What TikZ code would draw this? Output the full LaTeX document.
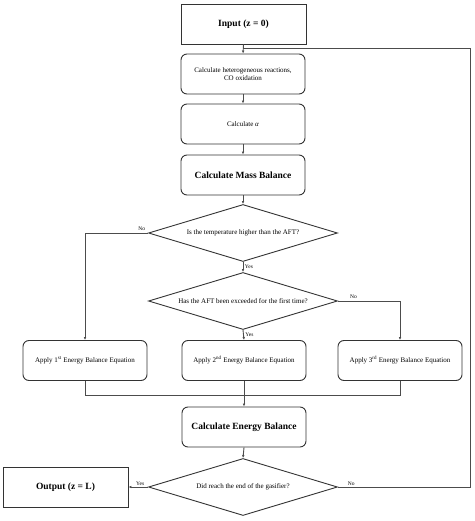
\documentclass[tikz,border=0pt]{standalone}
\usepackage{fontspec}
\setmainfont{Liberation Serif}
\usetikzlibrary{shapes.geometric,arrows.meta}
\begin{document}
\begin{tikzpicture}[x=1pt,y=-1pt,
  line/.style={draw=black!70, line width=0.9pt},
  arr/.style={line, -{Latex[length=3pt,width=2.6pt]}},
  sqbox/.style={draw=black!80, line width=0.9pt, minimum width=125pt, minimum height=40pt, inner sep=0pt, font=\fontsize{9.5}{11}\selectfont\bfseries},
  rbox/.style={draw=black!80, line width=0.9pt, rounded corners=6pt, minimum width=124pt, minimum height=40pt, inner sep=0pt, align=center, font=\fontsize{7}{8.5}\selectfont},
  bigbox/.style={rbox, font=\fontsize{9.5}{11}\selectfont\bfseries},
  dia/.style={draw=black!80, line width=0.9pt, shape=diamond, aspect=3.3, minimum width=189pt, minimum height=57pt, inner sep=0pt, font=\fontsize{7}{8.5}\selectfont},
  lab/.style={font=\fontsize{5.5}{6.5}\selectfont, inner sep=1.5pt}
]
\useasboundingbox (0,0) rectangle (474,521);

\node[sqbox] (input) at (243.5,24) {Input (z = 0)};
\node[rbox] (hetero) at (243,74) {Calculate heterogeneous reactions,\\CO oxidation};
\node[rbox] (alpha) at (243,124) {Calculate \textit{α}};
\node[bigbox] (mass) at (243,175) {Calculate Mass Balance};
\node[dia] (d1) at (243,233) {Is the temperature higher than the AFT?};
\node[dia] (d2) at (243,301) {Has the AFT been exceeded for the first time?};
\node[rbox] (e1) at (85,360.5) {Apply 1\textsuperscript{st} Energy Balance Equation};
\node[rbox] (e2) at (244,360.5) {Apply 2\textsuperscript{nd} Energy Balance Equation};
\node[rbox] (e3) at (400,360.5) {Apply 3\textsuperscript{rd} Energy Balance Equation};
\node[bigbox] (energy) at (244,427) {Calculate Energy Balance};
\node[dia] (d3) at (243,487) {Did reach the end of the gasifier?};
\node[sqbox] (output) at (65.5,487) {Output (z = L)};

\coordinate (join) at (243,48);
\coordinate (merge) at (244,395);
\coordinate (loopA) at (470,487);
\coordinate (loopB) at (470,48);

\draw[arr] (input.south) -- (hetero.north);
\draw[arr] (hetero.south) -- (alpha.north);
\draw[arr] (alpha.south) -- (mass.north);
\draw[arr] (mass.south) -- (d1.north);
\draw[arr] (d1.south) -- node[lab, right, pos=0.5] {Yes} (d2.north);
\draw[arr] (d1.west) -- node[lab, above, pos=0.1] {No} (d1.west -| e1.north) -- (e1.north);
\draw[arr] (d2.south) -- node[lab, right, pos=0.5] {Yes} (e2.north);
\draw[arr] (d2.east) -- node[lab, above, pos=0.25] {No} (d2.east -| e3.north) -- (e3.north);
\draw[line] (e1.south) -- (e1.south |- merge) -- (e3.south |- merge) -- (e3.south);
\draw[line] (e2.south) -- (merge);
\draw[arr] (merge) -- (energy.north);
\draw[arr] (energy.south) -- (d3.north);
\draw[arr] (d3.west) -- node[lab, above, pos=0.4] {Yes} (output.east);
\draw[line] (d3.east) -- node[lab, above, pos=0.1] {No} (loopA) -- (loopB) -- (join);
\end{tikzpicture}
\end{document}
